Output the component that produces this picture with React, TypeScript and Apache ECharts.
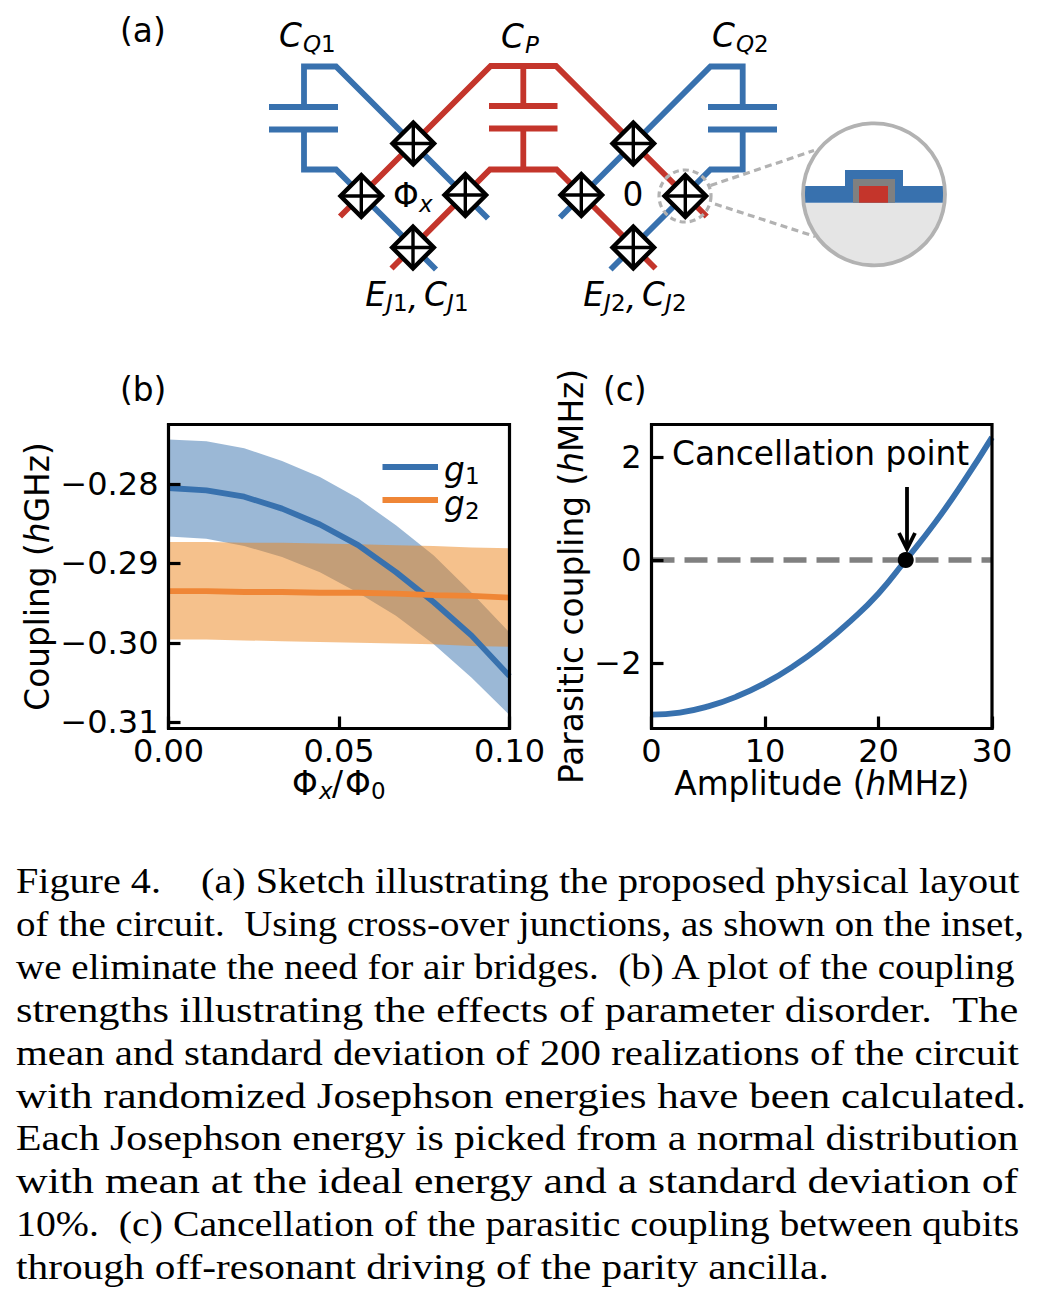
import React, { useEffect, useRef } from "react";
import * as echarts from "echarts";

// ---------- data ----------
const fluxValues = [0, 0.0111, 0.0222, 0.0333, 0.0444, 0.0556, 0.0667, 0.0778, 0.0889, 0.1];
const g1Mean = [-0.2805, -0.2808, -0.2816, -0.2831, -0.2851, -0.2877, -0.2911, -0.2949, -0.2991, -0.3042];
const g1Upper = [-0.2744, -0.2746, -0.2755, -0.2771, -0.2791, -0.2818, -0.2852, -0.289, -0.2937, -0.2987];
const g1Lower = [-0.2866, -0.2869, -0.2878, -0.2892, -0.2911, -0.2937, -0.2966, -0.3002, -0.3044, -0.3091];
const g2Mean = [-0.2935, -0.2935, -0.2936, -0.2936, -0.2937, -0.2937, -0.2938, -0.294, -0.2941, -0.2943];
const g2Upper = [-0.2873, -0.2873, -0.2874, -0.2874, -0.2875, -0.2876, -0.2877, -0.2878, -0.288, -0.2881];
const g2Lower = [-0.2996, -0.2996, -0.2997, -0.2998, -0.2999, -0.3, -0.3001, -0.3002, -0.3004, -0.3005];

const amplitudes = [0, 2.5, 5, 7.5, 10, 12.5, 15, 17.5, 20, 22.4, 25, 27.5, 30];
const parasitic = [-3.0, -2.96, -2.84, -2.65, -2.39, -2.06, -1.66, -1.19, -0.65, 0, 0.73, 1.52, 2.38];
const zeroLineX = [0, 30];
const cancellationPoint = [22.4, 0];

const fluxTicks = [0, 0.05, 0.1];
const couplingTicks = [-0.31, -0.3, -0.29, -0.28];
const amplitudeTicks = [0, 10, 20, 30];
const parasiticTicks = [-2, 0, 2];

const captionLines = [
  "Figure 4.\u2002\u2002(a) Sketch illustrating the proposed physical layout",
  "of the circuit.  Using cross-over junctions, as shown on the inset,",
  "we eliminate the need for air bridges.  (b) A plot of the coupling",
  "strengths illustrating the effects of parameter disorder.  The",
  "mean and standard deviation of 200 realizations of the circuit",
  "with randomized Josephson energies have been calculated.",
  "Each Josephson energy is picked from a normal distribution",
  "with mean at the ideal energy and a standard deviation of",
  "10%.  (c) Cancellation of the parasitic coupling between qubits",
  "through off-resonant driving of the parity ancilla.",
];
const captionRightEdges = [1019, 1024, 1019, 1019, 1019, 1026, 1019, 1019, 1019, 829];

// ---------- style ----------
const BLUE = "#3871ae";
const ORANGE = "#ef8636";
const ORANGE_BAND = "#eb8319";
const RED = "#c4352b";
const GREY = "#b2b2b2";
const SANS = '"DejaVu Sans"';
const FS = 32.8;
const TICK_FS = 32;
const SUB = 23;

function txt(text: string, x: number, y: number, size = FS, italic = false, align = "left", extra: any = {}) {
  return {
    type: "text",
    x,
    y,
    z: 30,
    silent: true,
    style: {
      text,
      fill: "#000",
      fontFamily: SANS,
      fontSize: size,
      fontStyle: italic ? "italic" : "normal",
      align,
      verticalAlign: "middle",
      ...extra,
    },
  };
}

const wire = (points: number[][], stroke: string, w = 5.8) => ({
  type: "polyline",
  z: 10,
  silent: true,
  shape: { points },
  style: { stroke, lineWidth: w, fill: "none", lineJoin: "miter" },
});

const line = (x1: number, y1: number, x2: number, y2: number, stroke: string, w: number, dash?: number[], z = 10) => ({
  type: "line",
  z,
  silent: true,
  shape: { x1, y1, x2, y2 },
  style: { stroke, lineWidth: w, lineDash: dash },
});

const junction = (cx: number, cy: number) => {
  const r = 20.8;
  return [
    {
      type: "polygon",
      z: 15,
      silent: true,
      shape: { points: [[cx - r, cy], [cx, cy - r], [cx + r, cy], [cx, cy + r]] },
      style: { fill: "#fff", stroke: "#000", lineWidth: 4.4, lineJoin: "miter" },
    },
    line(cx - r, cy, cx + r, cy, "#000", 3.4, undefined, 16),
    line(cx, cy - r, cx, cy + r, "#000", 3.4, undefined, 16),
  ];
};

function buildDiagram(): any[] {
  const els: any[] = [];
  // qubit 1 wires + capacitor
  els.push(wire([[304, 106], [304, 66.5], [336, 66.5], [488, 218.5]], BLUE));
  els.push(wire([[304, 129], [304, 169.5], [336, 169.5], [436, 269.5]], BLUE));
  els.push(line(269, 107, 338, 107, BLUE, 6.2), line(269, 129.5, 338, 129.5, BLUE, 6.2));
  // qubit 2 wires + capacitor
  els.push(wire([[742.7, 106], [742.7, 66.5], [710.5, 66.5], [560, 217.5]], BLUE));
  els.push(wire([[742.7, 129], [742.7, 169.5], [710.5, 169.5], [610.5, 269.5]], BLUE));
  els.push(line(708, 107, 777, 107, BLUE, 6.2), line(708, 129.5, 777, 129.5, BLUE, 6.2));
  // parity ancilla wires + capacitor
  els.push(wire([[340, 216.5], [490.7, 66], [556, 66], [706.7, 216.5]], RED));
  els.push(wire([[391.5, 268.5], [490, 169.5], [556.5, 169.5], [655.5, 268.5]], RED));
  els.push(line(523.3, 66, 523.3, 106, RED, 5.8), line(523.3, 128, 523.3, 169.5, RED, 5.8));
  els.push(line(489, 106, 557.5, 106, RED, 6.2), line(489, 128.5, 557.5, 128.5, RED, 6.2));
  // junctions
  const centers = [
    [413.3, 143.5], [361.3, 196], [465.3, 195], [413, 247.5],
    [633.3, 143.5], [581.3, 195], [685.3, 196], [633.3, 247.5],
  ];
  centers.forEach(([x, y]) => els.push(...junction(x, y)));

  // inset zoom marks
  els.push({
    type: "circle", z: 18, silent: true,
    shape: { cx: 685, cy: 196, r: 26 },
    style: { fill: "none", stroke: GREY, lineWidth: 3.2, lineDash: [6, 4] },
  });
  els.push(line(710.5, 185.5, 814, 150.5, GREY, 3.2, [7, 4.5], 18));
  els.push(line(715, 204, 815, 236.5, GREY, 3.2, [7, 4.5], 18));

  // inset
  const icx = 874, icy = 194.3, ir = 70;
  const chordY = 202.7;
  const a0 = Math.asin((chordY - icy) / ir);
  const chord: number[][] = [];
  for (let i = 0; i <= 72; i++) {
    const a = a0 + ((Math.PI - 2 * a0) * i) / 72;
    chord.push([icx + ir * Math.cos(a), icy + ir * Math.sin(a)]);
  }
  els.push({ type: "circle", z: 19, silent: true, shape: { cx: icx, cy: icy, r: ir }, style: { fill: "#fff" } });
  els.push({ type: "polygon", z: 20, silent: true, shape: { points: chord }, style: { fill: "#e5e5e5" } });
  const rect = (x: number, y: number, w: number, h: number, fill: string, z: number) => ({
    type: "rect", z, silent: true, shape: { x, y, width: w, height: h }, style: { fill },
  });
  els.push(rect(804.5, 186, 139, 16.7, BLUE, 21));
  els.push(rect(845, 170, 58, 20, BLUE, 21));
  els.push(rect(853, 179, 42, 23.7, "#808080", 22));
  els.push(rect(859, 186, 29, 16.7, RED, 23));
  els.push({
    type: "circle", z: 24, silent: true,
    shape: { cx: icx, cy: icy, r: 71 },
    style: { fill: "none", stroke: GREY, lineWidth: 3.8 },
  });

  // labels of the sketch
  els.push(txt("(a)", 120, 31));
  els.push(txt("C", 279, 36, FS, true), txt("Q", 303, 44, SUB, true), txt("1", 321, 44, SUB));
  els.push(txt("C", 501, 37, FS, true), txt("P", 525, 45, SUB, true));
  els.push(txt("C", 712, 36, FS, true), txt("Q", 736, 44, SUB, true), txt("2", 754, 44, SUB));
  els.push(txt("E", 365.3, 295, FS, true), txt("J", 386, 303, SUB, true), txt("1", 393, 303, SUB), txt(",", 408, 298, FS, true));
  els.push(txt("C", 424, 295, FS, true), txt("J", 447, 303, SUB, true), txt("1", 454, 303, SUB));
  els.push(txt("E", 583.3, 295, FS, true), txt("J", 604, 303, SUB, true), txt("2", 611, 303, SUB), txt(",", 626, 298, FS, true));
  els.push(txt("C", 642, 295, FS, true), txt("J", 665, 303, SUB, true), txt("2", 672, 303, SUB));
  els.push(txt("\u03A6", 393, 196), txt("x", 419, 204, SUB, true));
  els.push(txt("0", 633, 195, FS, false, "center"));
  return els;
}

function buildPlotDecor(): any[] {
  const els: any[] = [];
  els.push(txt("(b)", 120, 390), txt("(c)", 603, 390));
  // frames
  [[168.5, 424.5, 341, 304], [651.5, 424.5, 340.5, 304]].forEach(([x, y, width, height]) =>
    els.push({
      type: "rect", z: 25, silent: true,
      shape: { x, y, width, height },
      style: { fill: "none", stroke: "#000", lineWidth: 3.2 },
    })
  );
  // legend
  els.push(line(382.5, 467, 438, 467, BLUE, 6, undefined, 26));
  els.push(line(382.5, 500, 438, 500, ORANGE, 6, undefined, 26));
  els.push(txt("g", 444, 470, FS, true), txt("1", 465, 476, SUB));
  els.push(txt("g", 444, 504, FS, true), txt("2", 465, 511, SUB));
  // x label of panel b
  els.push(txt("\u03A6", 292, 784), txt("x", 319, 791, SUB, true), txt("/", 332, 784), txt("\u03A6", 345, 784), txt("0", 371, 791, SUB));
  // annotation of panel c
  els.push(txt("Cancellation point", 672, 454));
  els.push(line(907, 487, 907, 547, "#000", 3.8, undefined, 26));
  els.push({
    type: "polyline", z: 26, silent: true,
    shape: { points: [[899, 533], [907, 549], [915, 533]] },
    style: { fill: "none", stroke: "#000", lineWidth: 3.8 },
  });
  return els;
}

function buildCaption(): any[] {
  const font = '35px "Liberation Serif"';
  const ctx = document.createElement("canvas").getContext("2d")!;
  ctx.font = font;
  const LEFT = 16;
  return captionLines.map((t, i) => {
    const measured = ctx.measureText(t).width;
    return {
      type: "text",
      x: LEFT,
      y: 881 + i * 42.95,
      scaleX: (captionRightEdges[i] - LEFT) / measured,
      silent: true,
      style: {
        text: t,
        fill: "#000",
        fontFamily: '"Liberation Serif"',
        fontSize: 35,
        align: "left",
        verticalAlign: "middle",
      },
    };
  });
}

const minus = (v: number, digits: number) =>
  (v < 0 ? "\u2212" : "") + Math.abs(v).toFixed(digits);

const axisText = { color: "#000", fontFamily: SANS, fontSize: TICK_FS };
const nameStyle = () => ({
  fontFamily: SANS,
  fontSize: FS,
  color: "#000",
  rich: {
    a: { fontFamily: SANS, fontSize: FS, color: "#000" },
    i: { fontFamily: SANS, fontSize: FS, color: "#000", fontStyle: "italic" },
  },
});

function band(xs: number[], upper: number[], lower: number[], color: string, xAxisIndex: number, yAxisIndex: number, z: number) {
  return {
    type: "custom",
    xAxisIndex,
    yAxisIndex,
    z,
    silent: true,
    data: xs.map((x, i) => [x, lower[i], upper[i]]),
    encode: { x: 0, y: [1, 2] },
    renderItem: (params: any, api: any) => {
      if (params.dataIndex !== 0) return null;
      const top = xs.map((x, i) => api.coord([x, upper[i]]));
      const bottom = xs.map((x, i) => api.coord([x, lower[i]])).reverse();
      return {
        type: "polygon",
        shape: { points: [...top, ...bottom] },
        style: { fill: color, opacity: 0.5 },
      };
    },
  };
}

export default function App() {
  const ref = useRef<HTMLDivElement>(null);
  useEffect(() => {
    const chart = echarts.init(ref.current!, undefined, { renderer: "svg" });
    const commonAxis = {
      z: 10,
      axisLine: { show: true, onZero: false, lineStyle: { color: "#000", width: 3 } },
      splitLine: { show: false },
    };
    const tick = (values: number[]) => ({
      show: true, inside: true, length: 12,
      lineStyle: { color: "#000", width: 3.2 },
      customValues: values,
    });
    chart.setOption({
      animation: false,
      backgroundColor: "#fff",
      grid: [
        { left: 168.5, top: 424.5, width: 341, height: 304 },
        { left: 651.5, top: 424.5, width: 340.5, height: 304 },
      ],
      xAxis: [
        {
          ...commonAxis, type: "value", gridIndex: 0, min: 0, max: 0.1,
          axisTick: tick(fluxTicks),
          axisLabel: { ...axisText, lineHeight: 26, margin: 9.5, customValues: fluxTicks, hideOverlap: false, formatter: (v: number) => v.toFixed(2) },
        },
        {
          ...commonAxis, type: "value", gridIndex: 1, min: 0, max: 30,
          axisTick: tick(amplitudeTicks),
          axisLabel: { ...axisText, lineHeight: 26, margin: 9.5, customValues: amplitudeTicks, hideOverlap: false, formatter: (v: number) => String(v) },
          name: "{a|Amplitude (}{i|h}{a|MHz)}",
          nameLocation: "middle",
          nameGap: 38,
          nameTextStyle: nameStyle(),
        },
      ],
      yAxis: [
        {
          ...commonAxis, type: "value", gridIndex: 0, min: -0.3108, max: -0.2725,
          axisTick: tick(couplingTicks),
          axisLabel: { ...axisText, margin: 10, customValues: couplingTicks, hideOverlap: false, formatter: (v: number) => minus(v, 2) },
          name: "{a|Coupling (}{i|h}{a|GHz)}",
          nameLocation: "middle",
          nameGap: 114,
          nameTextStyle: nameStyle(),
        },
        {
          ...commonAxis, type: "value", gridIndex: 1, min: -3.27, max: 2.63,
          axisTick: tick(parasiticTicks),
          axisLabel: { ...axisText, margin: 10, customValues: parasiticTicks, hideOverlap: false, formatter: (v: number) => minus(v, 0) },
          name: "{a|Parasitic coupling (}{i|h}{a|MHz)}",
          nameLocation: "middle",
          nameGap: 63,
          nameTextStyle: nameStyle(),
        },
      ],
      series: [
        band(fluxValues, g1Upper, g1Lower, BLUE, 0, 0, 1),
        band(fluxValues, g2Upper, g2Lower, ORANGE_BAND, 0, 0, 2),
        {
          type: "line", name: "g1", xAxisIndex: 0, yAxisIndex: 0, z: 3, symbol: "none", smooth: false,
          lineStyle: { color: BLUE, width: 5.8 }, data: fluxValues.map((x, i) => [x, g1Mean[i]]),
        },
        {
          type: "line", name: "g2", xAxisIndex: 0, yAxisIndex: 0, z: 4, symbol: "none", smooth: false,
          lineStyle: { color: ORANGE, width: 5.8 }, data: fluxValues.map((x, i) => [x, g2Mean[i]]),
        },
        {
          type: "line", name: "zero", xAxisIndex: 1, yAxisIndex: 1, z: 3, symbol: "none",
          lineStyle: { color: "#808080", width: 5.6, type: [23, 10] }, data: zeroLineX.map((x) => [x, 0]),
        },
        {
          type: "line", name: "parasitic", xAxisIndex: 1, yAxisIndex: 1, z: 4, symbol: "none", smooth: 0.5,
          lineStyle: { color: BLUE, width: 5.8 }, data: amplitudes.map((x, i) => [x, parasitic[i]]),
        },
        {
          type: "scatter", name: "cancellation", xAxisIndex: 1, yAxisIndex: 1, z: 5, symbol: "circle", symbolSize: 16,
          itemStyle: { color: "#000", opacity: 1 }, data: [cancellationPoint],
        },
      ],
      graphic: { elements: [...buildDiagram(), ...buildPlotDecor(), ...buildCaption()] },
    });
    return () => chart.dispose();
  }, []);
  return <div ref={ref} style={{ position: "absolute", left: 0, top: 0, width: 1038, height: 1300 }} />;
}
